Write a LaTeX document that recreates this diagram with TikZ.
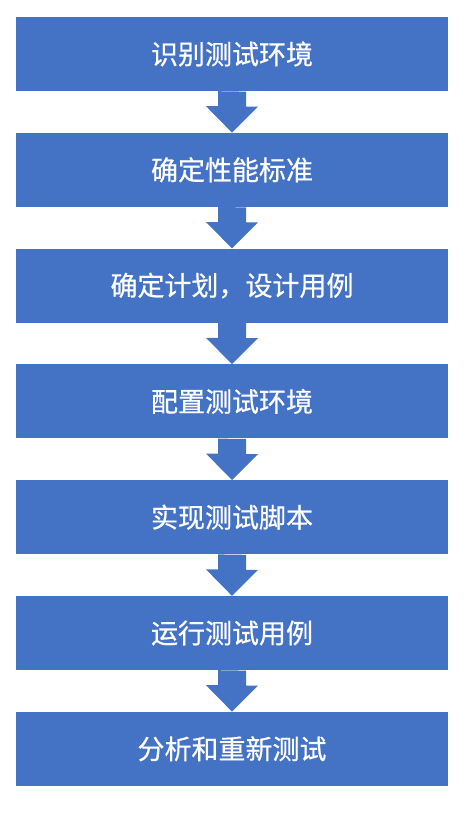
\documentclass[tikz,border=0pt]{standalone}
\usepackage{fontspec}
\newfontfamily\cjk[FakeBold=0.6]{Noto Sans CJK SC}
\definecolor{boxblue}{HTML}{4472C4}
\begin{document}
\begin{tikzpicture}[x=1pt,y=-1pt,
  stepbox/.style={fill=boxblue, draw=none, minimum width=432pt, minimum height=74pt, inner sep=0pt,
    text=white, font=\cjk\fontsize{27}{31}\selectfont},
  downarrow/.style={fill=boxblue, draw=none}]
\useasboundingbox (0,0) rectangle (474,814);
\foreach \i/\t in {1/识别测试环境,2/确定性能标准,3/确定计划，设计用例,4/配置测试环境,5/实现测试脚本,6/运行测试用例,7/分析和重新测试}{
  \node[stepbox] (b\i) at (232,{54+(\i-1)*115.8}) {\t};
}
\foreach \i [count=\j from 2] in {1,...,6}{
  \fill[boxblue] (b\i.south) ++(-14,0) -- ++(0,15) -- ++(-12,0) -- (b\j.north) -- ++(26,-26) -- ++(-12,0) -- ++(0,-15) -- cycle;
}
\end{tikzpicture}
\end{document}
